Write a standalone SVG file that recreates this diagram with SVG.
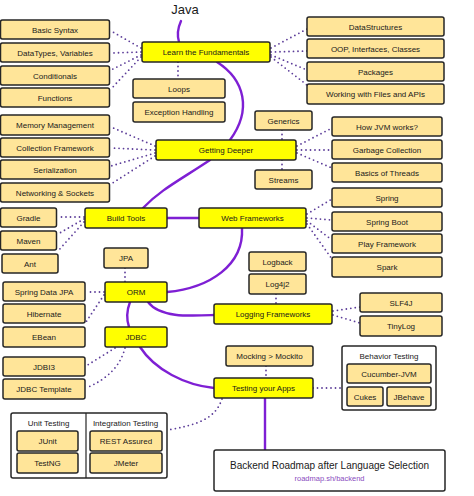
<svg xmlns="http://www.w3.org/2000/svg" width="474" height="496" viewBox="0 0 474 496">
<style>
text{font-family:"Liberation Sans",Arial,sans-serif;font-size:8px;fill:#1a1a1a;text-anchor:middle;dominant-baseline:central}
.s{fill:#ffe599;stroke:#262626;stroke-width:1.5}
.t{fill:#ffff00;stroke:#262626;stroke-width:1.5}
.c{fill:#ffffff;stroke:#262626;stroke-width:1.5}
.m{fill:none;stroke:#7e1fd4;stroke-width:2.4;stroke-linecap:round}
.d{fill:none;stroke:#5c3d99;stroke-width:1.8;stroke-dasharray:0 4.5;stroke-linecap:round}
</style>
<rect width="474" height="496" fill="#ffffff"/>
<text x="185" y="9" style="font-size:13px">Java</text>
<g id="connectors">
<path class="m" d="M181 21 Q176 32 179 42"/>
<path class="m" d="M217 62 C245 80 252 110 230 140"/>
<path class="m" d="M210 160 C180 180 160 190 143 208"/>
<path class="m" d="M167 218 L199 218"/>
<path class="m" d="M242 228 C244 265 210 288 167 292"/>
<path class="m" d="M148 302 C160 318 190 316 214 315"/>
<path class="m" d="M130 302 Q125 315 129 327"/>
<path class="m" d="M140 347 C155 370 185 385 214 388"/>
<path class="m" d="M265 398 L265 450"/>
<path class="d" d="M141 48 L111 31"/>
<path class="d" d="M141 52 L111 53"/>
<path class="d" d="M141 55 L111 70"/>
<path class="d" d="M141 57 L111 89"/>
<path class="d" d="M271 48 L307 29"/>
<path class="d" d="M271 52 L307 51"/>
<path class="d" d="M271 55 L307 70"/>
<path class="d" d="M271 57 L307 85"/>
<path class="d" d="M178 62 L178 79"/>
<path class="d" d="M155 146 L111 127"/>
<path class="d" d="M155 150 L111 148"/>
<path class="d" d="M155 153 L111 166"/>
<path class="d" d="M155 156 L111 184"/>
<path class="d" d="M297 146 L332 128"/>
<path class="d" d="M297 150 L332 150"/>
<path class="d" d="M297 153 L332 168"/>
<path class="d" d="M282 130 L282 140"/>
<path class="d" d="M282 160 L282 170"/>
<path class="d" d="M84 217 L58 217"/>
<path class="d" d="M84 219 L58 234"/>
<path class="d" d="M84 222 L58 251"/>
<path class="d" d="M307 214 L332 199"/>
<path class="d" d="M307 218 L332 220"/>
<path class="d" d="M307 221 L332 240"/>
<path class="d" d="M307 224 L332 259"/>
<path class="d" d="M125 268 L125 282"/>
<path class="d" d="M104 292 L86 292"/>
<path class="d" d="M104 295 L86 322"/>
<path class="d" d="M115 348 L86 366"/>
<path class="d" d="M125 348 Q118 375 86 388"/>
<path class="d" d="M276 294 L276 304"/>
<path class="d" d="M333 311 L360 307"/>
<path class="d" d="M333 315 L360 323"/>
<path class="d" d="M266 366 L266 378"/>
<path class="d" d="M313 388 L342 388"/>
<path class="d" d="M222 399 C215 420 195 425 168 430"/>
</g>
<g id="basic-syntax"><rect class="s" x="0.5" y="20" width="109" height="19" rx="2"/><text x="55" y="30">Basic Syntax</text></g>
<g id="datatypes"><rect class="s" x="0.5" y="43" width="109" height="19" rx="2"/><text x="55" y="53">DataTypes, Variables</text></g>
<g id="conditionals"><rect class="s" x="0.5" y="66" width="109" height="19" rx="2"/><text x="55" y="76">Conditionals</text></g>
<g id="functions"><rect class="s" x="0.5" y="88" width="109" height="19" rx="2"/><text x="55" y="98">Functions</text></g>
<g id="learn-fundamentals"><rect class="t" x="142" y="42" width="128" height="20" rx="2"/><text x="206" y="52.5">Learn the Fundamentals</text></g>
<g id="loops"><rect class="s" x="133" y="79" width="92" height="19" rx="2"/><text x="179" y="89">Loops</text></g>
<g id="exception-handling"><rect class="s" x="133" y="102" width="92" height="20" rx="2"/><text x="179" y="112.5">Exception Handling</text></g>
<g id="datastructures"><rect class="s" x="307" y="17" width="137" height="19" rx="2"/><text x="375.5" y="27">DataStructures</text></g>
<g id="oop"><rect class="s" x="307" y="39" width="137" height="19" rx="2"/><text x="375.5" y="49">OOP, Interfaces, Classes</text></g>
<g id="packages"><rect class="s" x="307" y="62" width="137" height="19" rx="2"/><text x="375.5" y="72">Packages</text></g>
<g id="files-apis"><rect class="s" x="307" y="84" width="137" height="20" rx="2"/><text x="375.5" y="94.5">Working with Files and APIs</text></g>
<g id="memory-management"><rect class="s" x="0.5" y="115" width="109" height="20" rx="2"/><text x="55" y="125.5">Memory Management</text></g>
<g id="collection-framework"><rect class="s" x="0.5" y="138" width="109" height="19" rx="2"/><text x="55" y="148">Collection Framework</text></g>
<g id="serialization"><rect class="s" x="0.5" y="160" width="109" height="19" rx="2"/><text x="55" y="170">Serialization</text></g>
<g id="networking"><rect class="s" x="0.5" y="183" width="109" height="19" rx="2"/><text x="55" y="193">Networking &amp; Sockets</text></g>
<g id="getting-deeper"><rect class="t" x="156" y="140" width="140" height="20" rx="2"/><text x="226" y="150.5">Getting Deeper</text></g>
<g id="generics"><rect class="s" x="255" y="111" width="57" height="19" rx="2"/><text x="283.5" y="121">Generics</text></g>
<g id="streams"><rect class="s" x="255" y="170" width="57" height="19" rx="2"/><text x="283.5" y="180">Streams</text></g>
<g id="jvm"><rect class="s" x="332" y="117" width="110" height="19" rx="2"/><text x="387" y="127">How JVM works?</text></g>
<g id="garbage-collection"><rect class="s" x="332" y="140" width="110" height="19" rx="2"/><text x="387" y="150">Garbage Collection</text></g>
<g id="threads"><rect class="s" x="332" y="163" width="110" height="19" rx="2"/><text x="387" y="173">Basics of Threads</text></g>
<g id="gradle"><rect class="s" x="0.5" y="208" width="56" height="19" rx="2"/><text x="28.5" y="218">Gradle</text></g>
<g id="maven"><rect class="s" x="0.5" y="231" width="56" height="19" rx="2"/><text x="28.5" y="241">Maven</text></g>
<g id="ant"><rect class="s" x="2" y="254" width="56" height="19" rx="2"/><text x="30" y="264">Ant</text></g>
<g id="build-tools"><rect class="t" x="85" y="208" width="82" height="20" rx="2"/><text x="126" y="218.5">Build Tools</text></g>
<g id="web-frameworks"><rect class="t" x="199" y="208" width="107" height="20" rx="2"/><text x="252.5" y="218.5">Web Frameworks</text></g>
<g id="spring"><rect class="s" x="332" y="188" width="110" height="19" rx="2"/><text x="387" y="198">Spring</text></g>
<g id="spring-boot"><rect class="s" x="332" y="212" width="110" height="19" rx="2"/><text x="387" y="222">Spring Boot</text></g>
<g id="play"><rect class="s" x="332" y="234" width="110" height="19" rx="2"/><text x="387" y="244">Play Framework</text></g>
<g id="spark"><rect class="s" x="332" y="257" width="110" height="20" rx="2"/><text x="387" y="267.5">Spark</text></g>
<g id="jpa"><rect class="s" x="104" y="248" width="44" height="20" rx="2"/><text x="126" y="258.5">JPA</text></g>
<g id="orm"><rect class="t" x="105" y="282" width="62" height="20" rx="2"/><text x="136" y="292.5">ORM</text></g>
<g id="jdbc"><rect class="t" x="105" y="327" width="62" height="20" rx="2"/><text x="136" y="337.5">JDBC</text></g>
<g id="spring-data-jpa"><rect class="s" x="3" y="282" width="82" height="19" rx="2"/><text x="44" y="292">Spring Data JPA</text></g>
<g id="hibernate"><rect class="s" x="3" y="304" width="82" height="19" rx="2"/><text x="44" y="314">Hibernate</text></g>
<g id="ebean"><rect class="s" x="3" y="327" width="82" height="20" rx="2"/><text x="44" y="337.5">EBean</text></g>
<g id="jdbi3"><rect class="s" x="3" y="357" width="82" height="19" rx="2"/><text x="44" y="367">JDBI3</text></g>
<g id="jdbc-template"><rect class="s" x="3" y="379" width="82" height="20" rx="2"/><text x="44" y="389.5">JDBC Template</text></g>
<g id="logback"><rect class="s" x="249" y="252" width="57" height="19" rx="2"/><text x="277.5" y="262">Logback</text></g>
<g id="log4j2"><rect class="s" x="249" y="274" width="57" height="20" rx="2"/><text x="277.5" y="284.5">Log4j2</text></g>
<g id="logging-frameworks"><rect class="t" x="214" y="304" width="118" height="20" rx="2"/><text x="273" y="314.5">Logging Frameworks</text></g>
<g id="slf4j"><rect class="s" x="360" y="293" width="82" height="19" rx="2"/><text x="401" y="303">SLF4J</text></g>
<g id="tinylog"><rect class="s" x="360" y="316" width="82" height="20" rx="2"/><text x="401" y="326.5">TinyLog</text></g>
<g id="mocking"><rect class="s" x="226" y="346" width="87" height="20" rx="2"/><text x="269.5" y="356.5">Mocking &gt; Mockito</text></g>
<g id="testing"><rect class="t" x="214" y="378" width="99" height="20" rx="2"/><text x="263.5" y="388.5">Testing your Apps</text></g>
<g id="behavior-testing"><rect class="c" x="342" y="346" width="94" height="64" rx="2"/><text x="389" y="356.5">Behavior Testing</text>
<rect class="s" x="347" y="364" width="84" height="19" rx="2"/><text x="389" y="374">Cucumber-JVM</text>
<rect class="s" x="347" y="387" width="36" height="19" rx="2"/><text x="365" y="397">Cukes</text>
<rect class="s" x="387" y="387" width="44" height="19" rx="2"/><text x="409" y="397">JBehave</text></g>
<g id="unit-integration-testing"><rect class="c" x="11" y="413" width="156" height="65" rx="2"/><line x1="86" y1="413" x2="86" y2="478" stroke="#262626" stroke-width="1.2"/>
<text x="48.5" y="423">Unit Testing</text><text x="125.5" y="423">Integration Testing</text>
<rect class="s" x="17" y="431" width="61" height="20" rx="2"/><text x="47.5" y="441">JUnit</text>
<rect class="s" x="17" y="453" width="61" height="20" rx="2"/><text x="47.5" y="463">TestNG</text>
<rect class="s" x="90" y="431" width="72" height="20" rx="2"/><text x="126" y="441.5">REST Assured</text>
<rect class="s" x="90" y="453" width="72" height="20" rx="2"/><text x="126" y="463.5">JMeter</text></g>
<g id="backend-roadmap"><rect class="c" x="214" y="450" width="231" height="41" rx="2"/><text x="329.5" y="465" style="font-size:10px">Backend Roadmap after Language Selection</text><text x="329.5" y="478" style="font-size:7.5px;fill:#8a4cc0">roadmap.sh/backend</text></g>
</svg>
